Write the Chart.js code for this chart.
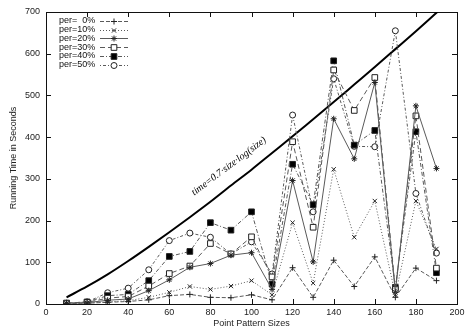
<!DOCTYPE html>
<html>
<head>
<meta charset="utf-8">
<script src="https://cdn.jsdelivr.net/npm/chart.js@4.4.1/dist/chart.umd.min.js"></script>
<style>
  html, body { margin: 0; padding: 0; background: #fff; }
  #wrap { width: 474px; height: 332px; }
</style>
</head>
<body>
<div id="wrap"><canvas id="chart"></canvas></div>
<script>
// ─── Data ──────────────────────────────────────────
const SIZES   = [10, 20, 30, 40, 50, 60, 70, 80, 90, 100, 110, 120, 130, 140, 150, 160, 170, 180, 190];
const PER_0   = [1, 2, 4, 6, 10, 20, 23, 16, 15, 22, 10, 87, 16, 105, 42, 113, 16, 86, 56];
const PER_10  = [1, 2, 5, 8, 16, 28, 42, 35, 43, 56, 22, 195, 50, 323, 160, 247, 22, 247, 132];
const PER_20  = [2, 3, 9, 12, 32, 58, 88, 97, 117, 123, 35, 296, 101, 444, 348, 531, 28, 475, 325];
const PER_30  = [2, 4, 14, 18, 43, 73, 91, 145, 120, 161, 65, 389, 184, 561, 464, 543, 35, 451, 86];
const PER_40  = [2, 5, 20, 23, 56, 114, 126, 195, 177, 221, 48, 335, 238, 583, 381, 416, 40, 413, 75];
const PER_50  = [2, 5, 27, 38, 82, 152, 170, 160, 120, 149, 72, 453, 221, 540, 378, 377, 655, 265, 122];

// time = 0.7 * size * log(size), read at each size
const CURVE_X = [10, 20, 30, 40, 50, 60, 70, 80, 90, 100, 110, 120, 130, 140, 150, 160, 170, 180, 190, 200];
const CURVE_Y = [16, 42, 71, 103, 137, 172, 208, 245, 284, 322, 362, 402, 443, 484, 526, 568, 611, 654, 698, 742];

const X_TICKS = [0, 20, 40, 60, 80, 100, 120, 140, 160, 180, 200];
const Y_TICKS = [0, 100, 200, 300, 400, 500, 600, 700];

const LABELS = ['per=  0%', 'per=10%', 'per=20%', 'per=30%', 'per=40%', 'per=50%'];
const SERIES = [PER_0, PER_10, PER_20, PER_30, PER_40, PER_50];
const CURVE_LABEL = 'time=0.7·size·log(size)';

// ─── Styles ────────────────────────────────────────
const FONT = 'Liberation Sans, Arial, Helvetica, sans-serif';
const STYLES = [
  { point: 'cross',    radius: 3,   fill: '#333', dash: [4, 2] },
  { point: 'crossRot', radius: 3,   fill: '#333', dash: [1, 2] },
  { point: 'star',     radius: 3,   fill: '#333', dash: [] },
  { point: 'rect',     radius: 4,   fill: '#fff', dash: [5, 3] },
  { point: 'rect',     radius: 4,   fill: '#000', dash: [4, 2, 1, 2] },
  { point: 'circle',   radius: 3,   fill: '#fff', dash: [1, 2, 3, 2] }
];

const pts = (xs, ys) => xs.map((x, i) => ({ x, y: ys[i] }));

const datasets = SERIES.map((s, i) => ({
  label: LABELS[i],
  data: pts(SIZES, s),
  borderColor: '#5a5a5a',
  borderWidth: 1,
  borderDash: STYLES[i].dash,
  pointStyle: STYLES[i].point,
  pointRadius: STYLES[i].radius,
  pointBorderColor: '#222',
  pointBackgroundColor: STYLES[i].fill,
  pointBorderWidth: 1,
  tension: 0,
  fill: false
}));

datasets.push({
  label: 'curve',
  data: pts(CURVE_X, CURVE_Y),
  borderColor: '#000',
  borderWidth: 2,
  pointRadius: 0,
  cubicInterpolationMode: 'monotone',
  fill: false
});

// ─── Plugin: gnuplot frame, inner ticks, legend, curve label ──
const gnuplotFrame = {
  id: 'gnuplotFrame',
  beforeDatasetsDraw(chart) {
    const { ctx, chartArea: a, scales: { x, y } } = chart;
    ctx.save();
    ctx.strokeStyle = '#111';
    ctx.lineWidth = 1;
    ctx.strokeRect(a.left + 0.5, a.top + 0.5, a.right - a.left, a.bottom - a.top);
    ctx.beginPath();
    X_TICKS.forEach(v => {
      const px = Math.round(x.getPixelForValue(v)) + 0.5;
      ctx.moveTo(px, a.bottom); ctx.lineTo(px, a.bottom - 5);
      ctx.moveTo(px, a.top); ctx.lineTo(px, a.top + 5);
    });
    Y_TICKS.forEach(v => {
      const py = Math.round(y.getPixelForValue(v)) + 0.5;
      ctx.moveTo(a.left, py); ctx.lineTo(a.left + 5, py);
      ctx.moveTo(a.right, py); ctx.lineTo(a.right - 5, py);
    });
    ctx.stroke();
    ctx.restore();
  },
  afterDraw(chart) {
    const { ctx, scales: { x, y } } = chart;
    ctx.save();
    // legend
    ctx.font = '9px ' + FONT;
    ctx.textBaseline = 'middle';
    ctx.textAlign = 'left';
    LABELS.forEach((lab, i) => {
      const ly = 21 + i * 8.7;
      const ds = chart.data.datasets[i];
      ctx.fillStyle = '#111';
      ctx.fillText(lab, 59, ly);
      ctx.strokeStyle = ds.borderColor;
      ctx.lineWidth = 1;
      ctx.setLineDash(ds.borderDash);
      ctx.beginPath();
      ctx.moveTo(100, Math.round(ly) + 0.5);
      ctx.lineTo(128, Math.round(ly) + 0.5);
      ctx.stroke();
      ctx.setLineDash([]);
      ctx.strokeStyle = ds.pointBorderColor;
      ctx.fillStyle = ds.pointBackgroundColor;
      Chart.helpers.drawPoint(ctx, {
        pointStyle: ds.pointStyle, radius: ds.pointRadius, rotation: 0, borderWidth: 1
      }, 114, Math.round(ly) + 0.5);
    });
    // curve label
    ctx.translate(x.getPixelForValue(89), y.getPixelForValue(330));
    ctx.rotate(-37 * Math.PI / 180);
    ctx.font = 'italic 10px Liberation Serif, Times New Roman, serif';
    ctx.textAlign = 'center';
    ctx.fillStyle = '#000';
    ctx.fillText(CURVE_LABEL, 0, 0);
    ctx.restore();
  }
};

// ─── Chart ─────────────────────────────────────────
new Chart(document.getElementById('chart'), {
  type: 'line',
  data: { datasets },
  options: {
    responsive: true,
    maintainAspectRatio: false,
    animation: false,
    events: [],
    layout: { padding: { top: 12, right: 17, left: 0, bottom: 0 } },
    plugins: { legend: { display: false }, tooltip: { enabled: false } },
    scales: {
      x: {
        type: 'linear', min: 0, max: 200,
        afterFit: s => { s.height = 28; },
        afterBuildTicks: s => { s.ticks = X_TICKS.map(v => ({ value: v })); },
        grid: { display: false, drawTicks: false },
        border: { display: false },
        ticks: { padding: 3, color: '#222', font: { family: FONT, size: 9 }, maxRotation: 0 },
        title: { display: true, text: 'Point Pattern Sizes', color: '#222',
                 font: { family: FONT, size: 9 }, padding: { top: 0, bottom: 3 } }
      },
      y: {
        type: 'linear', min: 0, max: 700,
        afterFit: s => { s.width = 46; },
        afterBuildTicks: s => { s.ticks = Y_TICKS.map(v => ({ value: v })); },
        grid: { display: false, drawTicks: false },
        border: { display: false },
        ticks: { padding: 6, color: '#222', font: { family: FONT, size: 9 } },
        title: { display: true, text: 'Running Time in Seconds', color: '#222',
                 font: { family: FONT, size: 9 }, padding: { top: 8, bottom: 0 } }
      }
    }
  },
  plugins: [gnuplotFrame]
});
</script>
</body>
</html>
